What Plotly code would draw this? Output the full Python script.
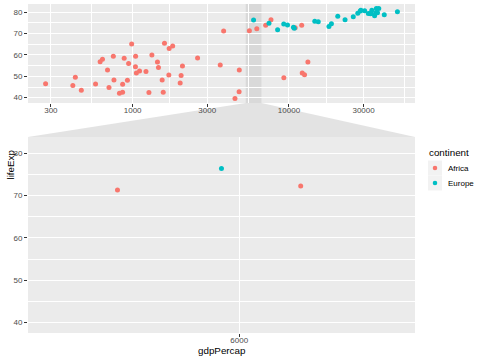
import numpy as np
import plotly.graph_objects as go

# gapminder 2007 — Africa
africa_gdp = [6223.367, 4797.231, 1441.285, 12569.85, 1217.033, 430.0707, 2042.095, 706.0165,
              1704.064, 986.1479, 277.5519, 3632.558, 1544.750, 2082.482, 5581.181, 12154.09,
              641.3695, 690.8056, 13206.48, 752.7497, 1327.609, 942.6542, 579.2317, 1463.249,
              1569.331, 414.5073, 12057.50, 1044.770, 759.3499, 1042.582, 1803.151, 10956.99,
              3820.175, 823.6856, 4811.060, 619.6769, 2013.977, 7670.123, 863.0885, 1598.435,
              1712.472, 862.5408, 926.1411, 9269.658, 2602.395, 4513.481, 1107.482, 882.9699,
              7092.923, 1056.380, 1271.212, 469.7093]
africa_life = [72.301, 42.731, 56.728, 50.728, 52.295, 49.580, 50.430, 44.741,
               50.651, 65.152, 46.462, 55.322, 48.328, 54.791, 71.338, 51.579,
               58.040, 52.947, 56.735, 59.448, 60.022, 56.007, 46.388, 54.110,
               42.592, 45.678, 73.952, 59.443, 48.303, 54.467, 64.164, 72.801,
               71.164, 42.082, 52.906, 56.867, 46.859, 76.442, 46.242, 65.528,
               63.062, 42.568, 48.159, 49.339, 58.556, 39.613, 52.517, 58.420,
               73.923, 51.542, 42.384, 43.487]
# gapminder 2007 — Europe
europe_gdp = [5937.030, 36126.49, 33692.61, 7446.299, 10680.79, 14619.22, 22833.31, 35278.42,
              33207.08, 30470.02, 32170.37, 27538.41, 18008.94, 36180.79, 40676.00, 28569.72,
              9253.896, 36797.93, 49357.19, 15389.92, 20509.65, 10808.48, 9786.535, 18678.31,
              25768.26, 28821.06, 33859.75, 37506.42, 8458.276, 33203.26]
europe_life = [76.423, 79.829, 79.441, 74.852, 73.005, 75.748, 76.486, 78.332,
               79.313, 80.657, 79.406, 79.483, 73.338, 81.757, 78.885, 80.546,
               74.543, 79.762, 80.196, 75.563, 78.098, 72.476, 74.002, 74.663,
               77.926, 80.941, 80.884, 81.701, 71.777, 79.425]

continents = ["Africa", "Europe"]
colors = {"Africa": "#F8766D", "Europe": "#00BFC4"}

x_ticks_top = [300, 1000, 3000, 10000, 30000]
x_minor_top = [547.7, 1732.1, 5477.2, 17320.5, 54772.3]
y_ticks = [40, 50, 60, 70, 80]
y_minor = [45, 55, 65, 75]
x_ticks_zoom = [6000]
zoom_limits = [5292, 6661]   # gdpPercap range shown in the zoom panel

# ---- scales ----
all_gdp = africa_gdp + europe_gdp
all_life = africa_life + europe_life
lo, hi = np.log10(min(all_gdp)), np.log10(max(all_gdp))
pad = 0.05 * (hi - lo)
xr_top = [lo - pad, hi + pad]
ylo, yhi = min(all_life), max(all_life)
ypad = 0.05 * (yhi - ylo)
yr = [ylo - ypad, yhi + ypad]
xr_zoom = [np.log10(zoom_limits[0]), np.log10(zoom_limits[1])]

W, H = 480, 360
X_DOM = [28 / W, 415 / W]
TOP_DOM = [1 - 103 / H, 1 - 4 / H]
BOT_DOM = [1 - 333 / H, 1 - 137 / H]

PANEL = "#EBEBEB"
GRID = "white"
FONT = "Liberation Sans, Arial, sans-serif"

fig = go.Figure()
data = {"Africa": (africa_gdp, africa_life), "Europe": (europe_gdp, europe_life)}
for c in continents:
    gx, ly = data[c]
    for xa, ya in (("x", "y"), ("x2", "y2")):
        fig.add_trace(go.Scatter(x=gx, y=ly, mode="markers", name=c, xaxis=xa, yaxis=ya,
                                 marker=dict(color=colors[c], size=5, line=dict(width=0)),
                                 showlegend=False, hoverinfo="skip"))

axis_common = dict(showline=False, zeroline=False, ticks="outside", ticklen=3, tickwidth=1,
                   tickcolor="#333333", gridcolor=GRID, gridwidth=1.1,
                   tickfont=dict(family=FONT, size=8, color="#4D4D4D"))
minor_y = dict(tickvals=y_minor, showgrid=True, gridcolor=GRID, gridwidth=0.5, ticks="")

fig.update_layout(
    width=W, height=H, margin=dict(l=0, r=0, t=0, b=0),
    paper_bgcolor="white", plot_bgcolor=PANEL, showlegend=False,
    xaxis=dict(axis_common, type="log", domain=X_DOM, range=xr_top, anchor="y",
               tickmode="array", tickvals=x_ticks_top, ticktext=[str(v) for v in x_ticks_top],
               ticklabelstandoff=-4,
               minor=dict(tickvals=x_minor_top, showgrid=True, gridcolor=GRID, gridwidth=0.5, ticks="")),
    yaxis=dict(axis_common, domain=TOP_DOM, range=yr, anchor="x",
               tickmode="array", tickvals=y_ticks, minor=minor_y),
    xaxis2=dict(axis_common, type="log", domain=X_DOM, range=xr_zoom, anchor="y2",
                tickmode="array", tickvals=x_ticks_zoom, ticktext=[str(v) for v in x_ticks_zoom],
                ticklabelstandoff=-4),
    yaxis2=dict(axis_common, domain=BOT_DOM, range=yr, anchor="x2",
                tickmode="array", tickvals=y_ticks, minor=minor_y),
)

# zoom indicator (shaded region + trapezoid), placed from the axis scales
def top_x_to_paper(logv):
    return X_DOM[0] + (logv - xr_top[0]) / (xr_top[1] - xr_top[0]) * (X_DOM[1] - X_DOM[0])

zx0, zx1 = top_x_to_paper(xr_zoom[0]), top_x_to_paper(xr_zoom[1])
ZOOM_FILL = "rgba(200,200,200,0.5)"
fig.add_shape(type="rect", xref="paper", yref="paper", x0=zx0, x1=zx1,
              y0=TOP_DOM[0], y1=TOP_DOM[1], fillcolor=ZOOM_FILL, line=dict(width=0), layer="below")
fig.add_shape(type="path", xref="paper", yref="paper",
              path=f"M {zx0},{TOP_DOM[0]} L {zx1},{TOP_DOM[0]} L {X_DOM[1]},{BOT_DOM[1]} L {X_DOM[0]},{BOT_DOM[1]} Z",
              fillcolor=ZOOM_FILL, line=dict(width=0), layer="below")

# axis titles
fig.add_annotation(text="gdpPercap", xref="paper", yref="paper", x=(X_DOM[0] + X_DOM[1]) / 2,
                   y=1 - 350.5 / H, showarrow=False, xanchor="center", yanchor="middle",
                   font=dict(family=FONT, size=9.8, color="black"))
fig.add_annotation(text="lifeExp", xref="paper", yref="paper", x=10.5 / W, y=1 - 165 / H,
                   textangle=-90, showarrow=False, xanchor="center", yanchor="middle",
                   font=dict(family=FONT, size=9.8, color="black"))

# legend
fig.add_annotation(text="continent", xref="paper", yref="paper", x=427 / W, y=1 - 152.5 / H,
                   showarrow=False, xanchor="left", yanchor="middle",
                   font=dict(family=FONT, size=9.8, color="black"))
key_centers = {"Africa": 168, "Europe": 183}
for c in continents:
    cy = key_centers[c]
    fig.add_shape(type="rect", xref="paper", yref="paper", x0=428 / W, x1=442 / W,
                  y0=1 - (cy + 7.5) / H, y1=1 - (cy - 7.5) / H, fillcolor="#F2F2F2",
                  line=dict(width=0))
    fig.add_shape(type="circle", xref="paper", yref="paper", x0=(435 - 2.3) / W, x1=(435 + 2.3) / W,
                  y0=1 - (cy + 2.3) / H, y1=1 - (cy - 2.3) / H, fillcolor=colors[c],
                  line=dict(width=0))
    fig.add_annotation(text=c, xref="paper", yref="paper", x=446 / W, y=1 - cy / H,
                       showarrow=False, xanchor="left", yanchor="middle",
                       font=dict(family=FONT, size=8, color="black"))

fig.write_html("out.html", config={"displayModeBar": False},
               post_script="document.body.style.margin='0';document.body.style.overflow='hidden';")
